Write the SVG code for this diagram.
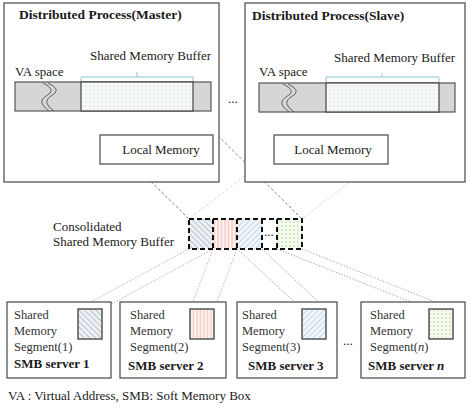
<svg xmlns="http://www.w3.org/2000/svg" width="474" height="413" viewBox="0 0 474 413" font-family="'Liberation Serif', 'DejaVu Serif', serif">
<style>
text{font-family:'Liberation Serif','DejaVu Serif',serif;fill:#1a1a1a}
.t{font-size:13.5px;font-weight:bold}
.m{font-size:13px}
.s{font-size:12.5px;fill:#333}
.b{font-size:13px;font-weight:bold}
.box{fill:#fff;stroke:#555;stroke-width:1.3}
.bar{fill:#d6d6d6;stroke:#555;stroke-width:1.2}
.buf{fill:url(#dots);stroke:#444;stroke-width:1.2}
.wave{fill:none;stroke:#444;stroke-width:0.8}
.brace{fill:none;stroke:#8fc3d8;stroke-width:1}
.ml{stroke:#666;stroke-width:0.8;stroke-dasharray:3 2;fill:none}
.sl{stroke:#b9d9e8;stroke-width:0.8;stroke-dasharray:3 2;fill:none}
.dl{stroke-width:0.9;stroke-dasharray:1.5 1.5;fill:none}
.cd{fill:none;stroke:#111;stroke-width:2;stroke-dasharray:5 3}
.sq{stroke:#555;stroke-width:1.5}
</style>
<defs>
<pattern id="dots" width="4" height="4" patternUnits="userSpaceOnUse">
<rect width="4" height="4" fill="#f6f8f9"/>
<circle cx="2" cy="2" r="0.6" fill="#b5c2ca"/>
</pattern>
<pattern id="h1" width="4" height="4" patternUnits="userSpaceOnUse" patternTransform="rotate(-45)">
<rect width="4" height="4" fill="#eef1f3"/>
<line x1="0" y1="0" x2="0" y2="4" stroke="#9fb0bb" stroke-width="1.4"/>
</pattern>
<pattern id="h2" width="3.5" height="4" patternUnits="userSpaceOnUse">
<rect width="3.5" height="4" fill="#fdf3f1"/>
<line x1="1" y1="0" x2="1" y2="4" stroke="#f0b6ab" stroke-width="0.9"/>
</pattern>
<pattern id="h3" width="4" height="4" patternUnits="userSpaceOnUse" patternTransform="rotate(45)">
<rect width="4" height="4" fill="#f1f6fa"/>
<line x1="0" y1="0" x2="0" y2="4" stroke="#a9c6dc" stroke-width="1.3"/>
</pattern>
<pattern id="gd" width="4" height="4" patternUnits="userSpaceOnUse">
<rect width="4" height="4" fill="#f4faef"/>
<circle cx="2" cy="2" r="0.9" fill="#c6e4ad"/>
</pattern>
</defs>

<g id="connectors">
<line class="ml" x1="81" y1="111" x2="100" y2="135"/>
<line class="ml" x1="193" y1="111" x2="302" y2="219"/>
<line class="ml" x1="133" y1="164" x2="189" y2="219"/>
<line class="sl" x1="327" y1="112" x2="189" y2="219"/>
<line class="sl" x1="440" y1="112" x2="302" y2="219"/>
<line class="dl" stroke="#9fb3c2" x1="189" y1="249" x2="78" y2="309"/>
<line class="dl" stroke="#9fb3c2" x1="213" y1="249" x2="102" y2="309"/>
<line class="dl" stroke="#e9a08f" x1="213" y1="249" x2="190" y2="309"/>
<line class="dl" stroke="#e9a08f" x1="237" y1="249" x2="214" y2="309"/>
<line class="dl" stroke="#8e9ca8" x1="237" y1="249" x2="302" y2="309"/>
<line class="dl" stroke="#8e9ca8" x1="262" y1="249" x2="326" y2="309"/>
<line class="dl" stroke="#9aa4a6" x1="277" y1="249" x2="429" y2="309"/>
<line class="dl" stroke="#9aa4a6" x1="302" y1="249" x2="453" y2="309"/>
</g>

<g id="master">
<rect class="box" x="4" y="3" width="215" height="179"/>
<text class="t" x="19" y="19">Distributed Process(Master)</text>
<text class="m" x="90" y="60">Shared Memory Buffer</text>
<path class="brace" d="M81,82 V77 H193 V82 M137,77 V72"/>
<text class="m" x="15" y="76">VA space</text>
<rect class="bar" x="15" y="82" width="196" height="29"/>
<rect class="buf" x="81" y="82" width="112" height="29"/>
<path class="wave" d="M43,83 Q58,90 46,96 Q36,102 49,111"/>
<path class="wave" d="M48,83 Q63,90 51,96 Q41,102 54,111"/>
<rect class="box" x="100" y="135" width="113" height="29"/>
<text class="m" x="161" y="154" text-anchor="middle">Local Memory</text>
</g>

<g id="gap-dots">
<text class="m" x="228" y="103">...</text>
</g>

<g id="slave">
<rect class="box" x="245" y="3" width="220" height="179"/>
<text class="t" x="252" y="20">Distributed Process(Slave)</text>
<text class="m" x="334" y="62">Shared Memory Buffer</text>
<path class="brace" d="M326,83 V77 H439 V83 M382,77 V73"/>
<text class="m" x="259" y="76">VA space</text>
<rect class="bar" x="259" y="83" width="196" height="29"/>
<rect class="buf" x="326" y="83" width="113" height="29"/>
<path class="wave" d="M283,84 Q298,91 286,97 Q276,103 289,112"/>
<path class="wave" d="M288,84 Q303,91 291,97 Q281,103 294,112"/>
<rect class="box" x="274" y="135" width="114" height="29"/>
<text class="m" x="333" y="154" text-anchor="middle">Local Memory</text>
</g>

<g id="consolidated">
<text class="m" x="53" y="231">Consolidated</text>
<text class="m" x="53" y="246">Shared Memory Buffer</text>
<rect x="189" y="219" width="24" height="30" fill="url(#h1)"/>
<rect x="213" y="219" width="24" height="30" fill="url(#h2)"/>
<rect x="237" y="219" width="25" height="30" fill="url(#h3)"/>
<rect x="277" y="219" width="25" height="30" fill="url(#gd)"/>
<text class="m" x="264" y="236" font-size="12">...</text>
<rect class="cd" x="189" y="219" width="113" height="30"/>
<line class="cd" x1="213" y1="219" x2="213" y2="249"/>
<line class="cd" x1="237" y1="219" x2="237" y2="249"/>
<line class="cd" x1="262" y1="219" x2="262" y2="249"/>
<line class="cd" x1="277" y1="219" x2="277" y2="249"/>
</g>

<g id="server1">
<rect class="box" x="7" y="302" width="104" height="76"/>
<rect class="sq" x="78" y="309" width="24" height="30" fill="url(#h1)"/>
<text class="s" x="14" y="319">Shared</text>
<text class="s" x="14" y="335">Memory</text>
<text class="s" x="14" y="351">Segment(1)</text>
<text class="b" x="14" y="368">SMB server 1</text>
</g>

<g id="server2">
<rect class="box" x="120" y="302" width="106" height="76"/>
<rect class="sq" x="190" y="309" width="24" height="30" fill="url(#h2)"/>
<text class="s" x="130" y="319">Shared</text>
<text class="s" x="130" y="335">Memory</text>
<text class="s" x="130" y="351">Segment(2)</text>
<text class="b" x="128" y="370">SMB server 2</text>
</g>

<g id="server3">
<rect class="box" x="237" y="302" width="100" height="76"/>
<rect class="sq" x="302" y="309" width="24" height="30" fill="url(#h3)"/>
<text class="s" x="242" y="319">Shared</text>
<text class="s" x="242" y="335">Memory</text>
<text class="s" x="242" y="351">Segment(3)</text>
<text class="b" x="248" y="370">SMB server 3</text>
</g>

<g id="server-dots">
<text class="m" x="343" y="345">...</text>
</g>

<g id="servern">
<rect class="box" x="361" y="302" width="104" height="76"/>
<rect class="sq" x="429" y="309" width="24" height="30" fill="url(#gd)"/>
<text class="s" x="370" y="319">Shared</text>
<text class="s" x="370" y="335">Memory</text>
<text class="s" x="370" y="351">Segment(<tspan font-style="italic">n</tspan>)</text>
<text class="b" x="368" y="370">SMB server <tspan font-style="italic">n</tspan></text>
</g>

<g id="legend">
<text class="m" x="8" y="400" font-size="13.3">VA : Virtual Address, SMB: Soft Memory Box</text>
</g>
</svg>
